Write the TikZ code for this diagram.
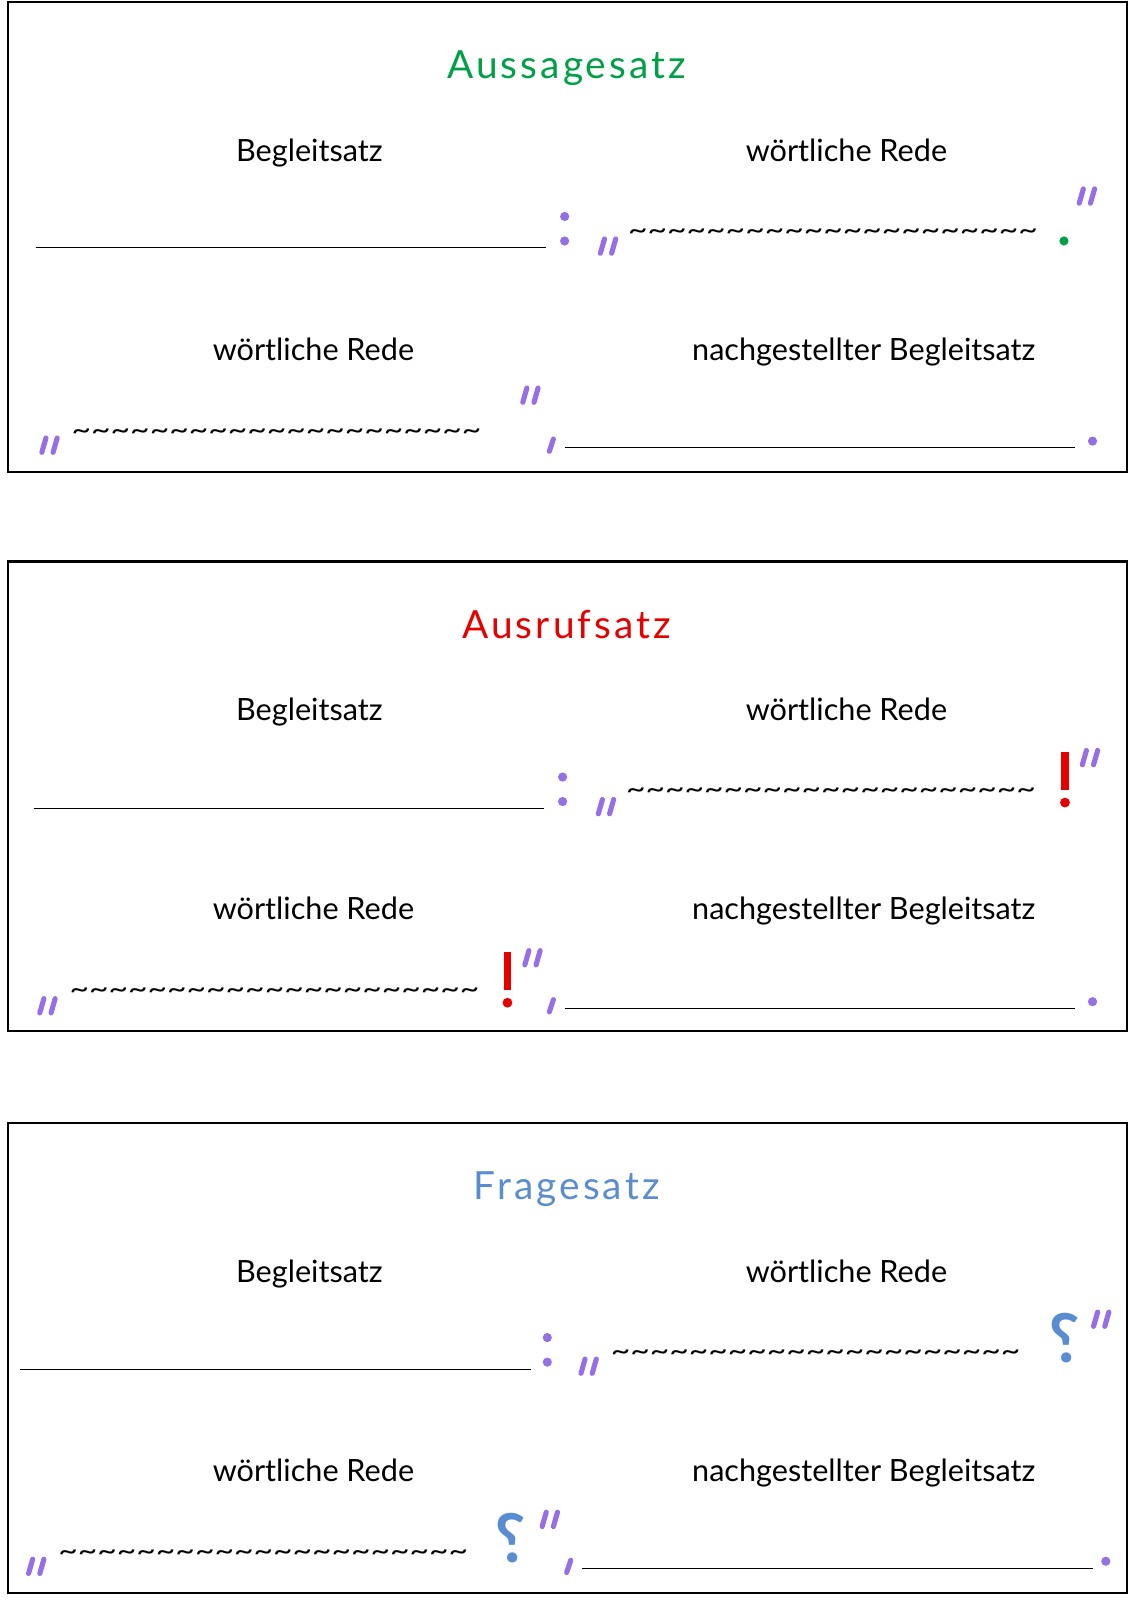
\documentclass[tikz,border=0pt]{standalone}
\usepackage{fontspec}
\setmainfont{Lato}
\definecolor{qp}{RGB}{150,110,230}
\definecolor{tgreen}{RGB}{0,160,70}
\definecolor{tred}{RGB}{230,0,0}
\definecolor{tblue}{RGB}{90,140,210}
\newcommand\tld{\textasciitilde}
\newcommand\tils{\tld\tld\tld\tld\tld\tld\tld\tld\tld\tld\tld\tld\tld\tld\tld\tld\tld\tld\tld\tld\tld}
\newcommand\dq[2]{\draw[qm] (#1-7,#2+7)--(#1-3,#2-7); \draw[qm] (#1+4,#2+7)--(#1+8,#2-7);}
\newcommand\cm[2]{\draw[qm] (#1-2,#2+6)--(#1+2,#2-6);}
\newcommand\dt[3]{\fill[#3] (#1,#2) circle (4.5);}
\begin{document}
\begin{tikzpicture}[x=1pt,y=-1pt,
  box/.style={draw,line width=2.2pt},
  lab/.style={font=\fontsize{30}{31}\selectfont,anchor=base},
  ttl/.style={font=\fontsize{38}{40}\selectfont\addfontfeature{LetterSpace=8},anchor=base},
  til/.style={font=\fontsize{27}{27}\selectfont,inner sep=0,anchor=west,xscale=1.22},
  qm/.style={qp,line width=5pt,line cap=round},
  qs/.style={font=\bfseries\fontsize{66}{66}\selectfont,text=tblue,xscale=-1},
  ln/.style={line width=1pt}]
\useasboundingbox (0,0) rectangle (1122,1567);
% ---------- panel 1
\draw[box] (8,2) rectangle (1104,462);
\node[ttl,text=tgreen] (t1) at (555,77) {Aussagesatz};
\node[lab] (b1) at (303,158) {Begleitsatz};
\node[lab] (w1) at (829,158) {wörtliche Rede};
\node[lab] (w1b) at (307,353) {wörtliche Rede};
\node[lab] (n1) at (846,353) {nachgestellter Begleitsatz};
\draw[ln] (35,242) -- (535,242);
\dt{553}{212}{qp}\dt{553}{236}{qp}
\dq{595}{241}
\node[til] (r1) at (615,229) {\tils};
\dt{1042}{236}{tgreen}
\dq{1064}{192}
\dq{48}{436}
\node[til] (r1b) at (70,425) {\tils};
\dq{519}{387}
\cm{540}{436}
\draw[ln] (553,438) -- (1053,438);
\dt{1070}{432}{qp}
% ---------- panel 2
\draw[box] (8,550) rectangle (1104,1010);
\node[ttl,text=tred] (t2) at (555,625) {Ausrufsatz};
\node[lab] (b2) at (303,706) {Begleitsatz};
\node[lab] (w2) at (829,706) {wörtliche Rede};
\node[lab] (w2b) at (307,901) {wörtliche Rede};
\node[lab] (n2) at (846,901) {nachgestellter Begleitsatz};
\draw[ln] (33,792) -- (533,792);
\dt{551}{761}{qp}\dt{551}{785}{qp}
\dq{593}{790}
\node[til] (r2) at (613,777) {\tils};
\draw[tred,line width=7pt] (1043,736) -- (1043,774); \fill[tred] (1043,786) circle (4.8);
\dq{1067}{742}
\dq{46}{985}
\node[til] (r2b) at (68,973) {\tils};
\draw[tred,line width=7pt] (497,932) -- (497,970); \fill[tred] (497,982) circle (4.8);
\dq{521}{938}
\cm{540}{985}
\draw[ln] (553,988) -- (1053,988);
\dt{1070}{981}{qp}
% ---------- panel 3
\draw[box] (8,1100) rectangle (1104,1560);
\node[ttl,text=tblue] (t3) at (555,1175) {Fragesatz};
\node[lab] (b3) at (303,1256) {Begleitsatz};
\node[lab] (w3) at (829,1256) {wörtliche Rede};
\node[lab] (w3b) at (307,1451) {wörtliche Rede};
\node[lab] (n3) at (846,1451) {nachgestellter Begleitsatz};
\draw[ln] (20,1341) -- (520,1341);
\dt{536}{1310}{qp}\dt{536}{1334}{qp}
\dq{576}{1338}
\node[til] (r3) at (598,1327) {\tils};
\node[qs] (q3) at (1043,1310) {?};
\dq{1078}{1292}
\dq{35}{1534}
\node[til] (r3b) at (57,1523) {\tils};
\node[qs] (q3b) at (500,1506) {?};
\dq{538}{1488}
\cm{557}{1534}
\draw[ln] (570,1536) -- (1070,1536);
\dt{1083}{1529}{qp}
\end{tikzpicture}
\end{document}
